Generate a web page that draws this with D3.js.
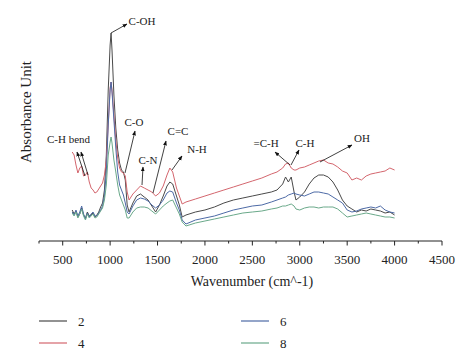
<!DOCTYPE html>
<html><head><meta charset="utf-8">
<script src="https://cdn.jsdelivr.net/npm/d3@7"></script>
<style>body{margin:0;background:#fff}svg{display:block}</style>
</head><body><svg id="c" width="474" height="364" font-family="'Liberation Serif', 'Times New Roman', 'DejaVu Serif', serif"></svg>
<script>
const wavenumbers = [600,620,640,660,680,700,720,740,760,780,800,820,840,860,880,900,920,940,960,980,1000,1010,1020,1040,1060,1080,1100,1120,1140,1160,1180,1200,1240,1280,1320,1360,1400,1440,1480,1520,1560,1600,1630,1660,1700,1730,1760,1800,1900,2000,2100,2200,2300,2400,2500,2600,2700,2760,2820,2850,2880,2910,2940,2960,3000,3050,3100,3150,3200,3250,3300,3350,3400,3450,3500,3550,3600,3650,3700,3750,3800,3850,3900,3950,4000];
const s2 = [22,18,21,15,18,24,17,14,20,16,17,19,15,17,20,25,29,42,77,142,187,199,182,137,104,82,69,62,60,52,27,20,29,36,38,35,32,26,20,27,36,46,50,48,36,27,15,17,20,22,25,29,32,34,36,38,40,42,48,55,50,55,40,32,35,40,48,54,57,57,55,50,42,32,26,23,20,22,21,23,22,21,19,20,17];
const s4 = [80,77,67,59,64,66,56,57,60,50,44,42,39,40,43,46,49,57,72,107,144,150,142,117,92,74,64,60,59,56,40,32,38,42,46,44,42,40,36,39,46,57,64,60,44,36,28,30,33,36,39,42,45,48,51,54,58,60,64,68,69,64,62,62,64,65,67,69,71,72,69,68,65,61,59,52,54,52,56,58,59,60,61,64,62];
const s6 = [20,17,22,16,20,26,18,13,19,15,18,20,16,16,19,22,26,36,60,107,142,150,140,112,84,60,47,42,37,29,20,18,26,32,34,33,31,27,24,27,32,39,41,40,29,22,12,8,12,14,16,19,22,24,26,27,30,32,34,35,37,38,39,38,37,36,38,40,40,39,38,35,32,29,22,20,21,23,24,25,24,26,22,20,19];
const s8 = [19,16,20,14,18,23,16,12,18,14,16,18,14,15,18,21,24,32,47,77,90,95,89,72,60,47,37,32,27,22,14,14,20,24,25,25,24,21,18,22,26,29,31,32,24,18,10,6,9,11,13,15,17,19,20,21,23,24,26,26,27,28,26,23,22,24,25,25,24,25,25,25,23,19,15,16,17,18,19,18,17,16,15,15,14];
const seriesNames = ["2","4","6","8"];
const seriesColors = ["#4a4a4a","#d4666e","#4d6aa6","#6aa98a"];
const xTicks = [500,1000,1500,2000,2500,3000,3500,4000,4500];
const annotations = [
  {t:"C-OH", tx:142, ty:25, from:[111,33], to:[127,24]},
  {t:"C-H bend", tx:68.5, ty:143, from:[85,176], to:[77,152]},
  {t:"", tx:0, ty:0, from:[88,175], to:[81,152]},
  {t:"C-O", tx:134, ty:126, from:[125,173], to:[135,131]},
  {t:"C-N", tx:148, ty:164, from:[142,185], to:[143,167]},
  {t:"C=C", tx:178, ty:135, from:[153,193], to:[166,141]},
  {t:"N-H", tx:197, ty:153, from:[172,170], to:[182,156]},
  {t:"=C-H", tx:266, ty:147, from:[290,165], to:[275,152]},
  {t:"C-H", tx:305, ty:147, from:[291,165], to:[299,150]},
  {t:"OH", tx:362, ty:142, from:[320,162], to:[352,145]}
];

const svg = d3.select("#c");
const x = d3.scaleLinear().domain([250,4500]).range([39,442]);
const y = d3.scaleLinear().domain([0,200]).range([232,32]);
const tc = "#222";

// axis
const ax = svg.append("g").attr("transform","translate(0,241)");
ax.append("line").attr("x1",x(250)).attr("x2",x(4500)).attr("stroke",tc).attr("stroke-width",1);
const minor = d3.range(250,4500,500);
ax.selectAll(".mn").data(minor).join("line").attr("x1",d=>x(d)).attr("x2",d=>x(d)).attr("y1",0).attr("y2",2.5).attr("stroke",tc);
ax.selectAll(".mj").data(xTicks).join("line").attr("x1",d=>x(d)).attr("x2",d=>x(d)).attr("y1",0).attr("y2",4.5).attr("stroke",tc);
ax.selectAll(".tl").data(xTicks).join("text").attr("x",d=>x(d)).attr("y",23).attr("text-anchor","middle").attr("font-size",13).attr("fill",tc).text(d=>d);
svg.append("text").attr("x",252).attr("y",286).attr("text-anchor","middle").attr("font-size",14).attr("fill",tc).text("Wavenumber (cm^-1)");
svg.append("text").attr("transform","translate(31,112) rotate(-90)").attr("text-anchor","middle").attr("font-size",15).attr("fill",tc).text("Absorbance Unit");

// lines
const all = [s2,s4,s6,s8];
const line = d3.line().x(d=>x(d[0])).y(d=>y(d[1]));
all.forEach((s,i)=>{
  svg.append("path").datum(wavenumbers.map((w,j)=>[w,s[j]])).attr("d",line).attr("fill","none").attr("stroke",seriesColors[i]).attr("stroke-width",1).attr("stroke-linejoin","round");
});

// annotations
svg.append("defs").append("marker").attr("id","ah").attr("viewBox","0 0 10 10").attr("refX",9).attr("refY",5).attr("markerWidth",6).attr("markerHeight",6).attr("orient","auto")
  .append("path").attr("d","M0,1L10,5L0,9Z").attr("fill","#111");
annotations.forEach(a=>{
  svg.append("line").attr("x1",a.from[0]).attr("y1",a.from[1]).attr("x2",a.to[0]).attr("y2",a.to[1]).attr("stroke","#111").attr("stroke-width",0.8).attr("marker-end","url(#ah)");
  if(a.t) svg.append("text").attr("x",a.tx).attr("y",a.ty).attr("text-anchor","middle").attr("font-size",11).attr("fill",tc).text(a.t);
});

// legend
const leg = [{i:0,lx:39,ly:321},{i:1,lx:39,ly:343},{i:2,lx:241,ly:321},{i:3,lx:241,ly:343}];
leg.forEach(l=>{
  svg.append("line").attr("x1",l.lx).attr("x2",l.lx+28).attr("y1",l.ly).attr("y2",l.ly).attr("stroke",seriesColors[l.i]).attr("stroke-width",1.2);
  svg.append("text").attr("x",l.lx+39).attr("y",l.ly+5).attr("font-size",13).attr("fill",tc).text(seriesNames[l.i]);
});
</script></body></html>
